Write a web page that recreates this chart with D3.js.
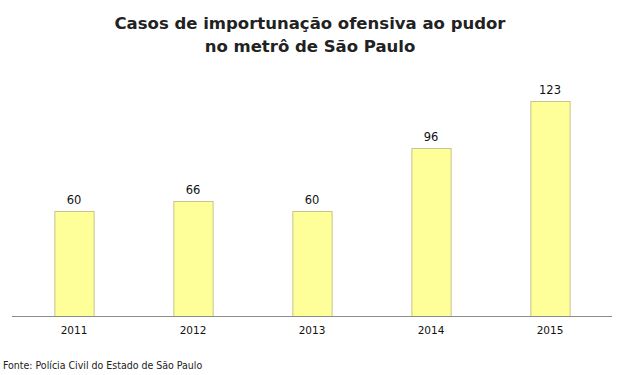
<!DOCTYPE html>
<html>
<head>
<meta charset="utf-8">
<script src="https://cdn.jsdelivr.net/npm/d3@7"></script>
<style>
  body { margin: 0; background: #fff; }
  svg { display: block; }
</style>
</head>
<body>
<div id="root"></div>
<script>
const years = ['2011', '2012', '2013', '2014', '2015'];
const cases = [60, 66, 60, 96, 123];
const titleLines = ['Casos de importunação ofensiva ao pudor', 'no metrô de São Paulo'];
const sourceText = 'Fonte: Polícia Civil do Estado de São Paulo';

function drawChart() {
  const dimensions = { width: 624, height: 375 };
  const baseline = 316;

  const wrapper = d3.select('#root')
    .append('svg')
    .attr('width', dimensions.width)
    .attr('height', dimensions.height);

  const xScale = d3.scaleBand()
    .domain(years)
    .range([14.5, 609.5])
    .paddingInner(0.67)
    .paddingOuter(0.335);

  const yScale = d3.scaleLinear()
    .domain([0, 100])
    .range([baseline, baseline - 175]);

  // title
  wrapper.append('g')
    .selectAll('text')
    .data(titleLines)
    .join('text')
    .attr('x', 310)
    .attr('y', (d, i) => 29 + i * 23)
    .attr('text-anchor', 'middle')
    .attr('font-family', 'DejaVu Sans, Verdana, sans-serif')
    .attr('font-weight', 'bold')
    .attr('font-size', 16.5)
    .attr('fill', '#222')
    .text(d => d);

  const data = years.map((y, i) => ({ year: y, value: cases[i] }));

  wrapper.append('g')
    .selectAll('rect')
    .data(data)
    .join('rect')
    .attr('x', d => xScale(d.year) + 0.5)
    .attr('y', d => Math.round(yScale(d.value)) + 0.5)
    .attr('width', xScale.bandwidth())
    .attr('height', d => baseline - Math.round(yScale(d.value)))
    .attr('fill', '#ffff99')
    .attr('stroke', '#c9c48f')
    .attr('stroke-width', 1);

  wrapper.append('g')
    .selectAll('text')
    .data(data)
    .join('text')
    .attr('x', d => xScale(d.year) + xScale.bandwidth() / 2)
    .attr('y', d => yScale(d.value) - 7)
    .attr('text-anchor', 'middle')
    .attr('font-family', 'DejaVu Sans, Verdana, sans-serif')
    .attr('font-size', 11.5)
    .attr('fill', '#111')
    .text(d => d.value);

  const xAxis = d3.axisBottom(xScale).tickSize(0).tickPadding(10);
  const xAxisGroup = wrapper.append('g')
    .attr('transform', `translate(0, ${baseline + 0.5})`)
    .call(xAxis);
  xAxisGroup.select('path').remove();
  xAxisGroup.selectAll('text')
    .attr('font-family', 'DejaVu Sans, Verdana, sans-serif')
    .attr('font-size', 10.5)
    .attr('fill', '#111');

  wrapper.append('line')
    .attr('x1', 12)
    .attr('x2', 612)
    .attr('y1', baseline + 0.5)
    .attr('y2', baseline + 0.5)
    .attr('stroke', '#8c8c8c')
    .attr('stroke-width', 1);

  wrapper.append('text')
    .attr('x', 3)
    .attr('y', 369)
    .attr('font-family', 'DejaVu Sans Condensed, Liberation Sans Narrow, sans-serif')
    .attr('font-size', 10.5)
    .attr('fill', '#222')
    .text(sourceText);
}

drawChart();
</script>
</body>
</html>
